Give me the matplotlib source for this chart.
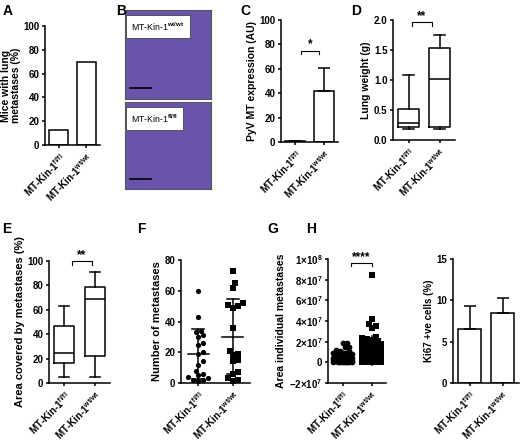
import numpy as np
import matplotlib
matplotlib.use("Agg")
import matplotlib.pyplot as plt

# estilo tipo GraphPad: Arial negrita
plt.rcParams.update({
    "font.family": ["Liberation Sans", "DejaVu Sans"],
    "font.weight": "bold",
    "axes.labelweight": "bold",
    "mathtext.fontset": "custom",
    "mathtext.rm": "Liberation Sans:bold",
    "mathtext.bf": "Liberation Sans:bold",
    "mathtext.it": "Liberation Sans:bold",
    "axes.linewidth": 1.1,
    "xtick.major.width": 1.1,
    "ytick.major.width": 1.1,
    "xtick.major.size": 2.5,
    "ytick.major.size": 2.5,
    "xtick.labelsize": 7,
    "ytick.labelsize": 7,
})

grupos = [r"MT-Kin-1$^{\mathbf{fl/fl}}$", r"MT-Kin-1$^{\mathbf{wt/wt}}$"]

# A) ratones con metastasis pulmonares (%)
mice_pct = [13, 70]

# C) expresion PyV MT (AU)
pyv_media = [0.8, 42]
pyv_err = [0.4, 18.5]

# D) peso pulmonar (g): whislo, q1, med, q3, whishi
lung_fl = [0.18, 0.21, 0.28, 0.51, 1.08]
lung_wt = [0.18, 0.21, 1.01, 1.54, 1.75]

# E) area cubierta por metastasis (%)
area_fl = [5, 16, 25, 47, 63]
area_wt = [5, 22, 69, 79, 91]

# F) numero de metastasis
num_fl = [60, 43, 34, 33, 31, 30, 26, 25, 20, 19, 14, 12, 8, 6, 5, 4, 3, 2, 2, 1]
num_wt = [73, 65, 62, 52, 51, 50, 49, 36, 21, 19, 18, 15, 14, 7, 6, 3, 2, 1]

# G) area de metastasis individuales
ind_fl = [1.9e7, 1.85e7, 1.5e7, 1.45e7, 1.2e7, 1.1e7, 1.05e7, 9.5e6, 9e6, 8.5e6,
          8e6, 7.5e6, 7e6, 6.5e6, 6e6, 5.5e6, 5e6, 4.5e6, 4.2e6, 4e6,
          3.5e6, 3.2e6, 3e6, 2.6e6, 2.4e6, 2e6, 1.8e6, 1.6e6, 1.4e6, 1.2e6,
          1e6, 9e5, 8e5, 7e5, 6e5, 5e5, 4e5, 3e5, 2e5, 1e5]
ind_wt = [8.5e7, 4.2e7, 3.7e7, 3.5e7, 3.3e7, 2.5e7, 2.4e7, 2.3e7, 2.2e7, 2.1e7,
          2e7, 1.95e7, 1.9e7, 1.8e7, 1.75e7, 1.7e7, 1.65e7, 1.6e7, 1.5e7, 1.45e7,
          1.4e7, 1.35e7, 1.3e7, 1.25e7, 1.2e7, 1.15e7, 1.1e7, 1.05e7, 1e7, 9.5e6,
          9e6, 8.5e6, 8e6, 7.5e6, 7e6, 6.5e6, 6e6, 5.5e6, 5e6, 4.5e6,
          4e6, 3.6e6, 3.2e6, 3e6, 2.8e6, 2.5e6, 2.2e6, 2e6, 1.8e6, 1.6e6,
          1.4e6, 1.2e6, 1e6, 9e5, 8e5, 7e5, 6e5, 5e5, 4e5, 3e5,
          2e5, 1.5e5, 1e5, 5e4]

# H) celulas Ki67 +ve (%)
ki67_media = [6.5, 8.5]
ki67_err = [2.8, 1.8]

W, H = 520, 441
fig = plt.figure(figsize=(W / 100, H / 100), dpi=100)


def ejes(x0, y0, x1, y1):
    # coordenadas en pixeles de la imagen
    ax = fig.add_axes([x0 / W, 1 - y1 / H, (x1 - x0) / W, (y1 - y0) / H])
    ax.spines["top"].set_visible(False)
    ax.spines["right"].set_visible(False)
    ax.set_xlim(-0.5, 1.5)
    ax.set_xticks([0, 1])
    ax.set_xticklabels(grupos, rotation=45, ha="right", rotation_mode="anchor")
    ax.tick_params(axis="x", pad=2)
    ax.tick_params(axis="y", pad=1.5)
    return ax


def corchete(ax, x0, x1, y, h, txt):
    ax.plot([x0, x0, x1, x1], [y - h, y, y, y - h], color="k", lw=0.8, clip_on=False)
    ax.text((x0 + x1) / 2, y, txt, ha="center", va="bottom", fontsize=8.5, clip_on=False)


def enjambre(vals, px_y, d, max_off):
    # reparte los puntos horizontalmente (en pixeles)
    vals = np.asarray(vals, dtype=float)
    cands = [0.0]
    k = 1
    while k * d / 2 <= max_off:
        cands += [k * d / 2, -k * d / 2]
        k += 1
    xs = np.zeros(len(vals))
    puestos = []
    for i in np.argsort(vals):
        y = vals[i] * px_y
        mejor, mejor_d = 0.0, -1
        for c in cands:
            md = min((np.hypot(c - px, y - py) for px, py in puestos), default=1e9)
            if md >= d:
                mejor = c
                break
            if md > mejor_d:
                mejor_d, mejor = md, c
        xs[i] = mejor
        puestos.append((mejor, y))
    return xs


def letra(x, y, t):
    fig.text(x / W, 1 - y / H, t, fontsize=10, fontweight="bold", va="top", ha="left")


# ---- A
ax = ejes(45, 26, 100, 145)
ax.bar([0, 1], mice_pct, width=0.7, color="white", edgecolor="k", linewidth=1.1)
ax.set_ylim(0, 100)
ax.set_yticks(range(0, 101, 20))
ax.set_ylabel("Mice with lung\nmetastases (%)", fontsize=7.5, labelpad=2, linespacing=1.0)
letra(3, 4, "A")

# ---- B (imagenes histologicas)
for y0, y1, txt in [(10, 99, r"MT-Kin-1$^{\mathbf{wt/wt}}$"), (102, 189, r"MT-Kin-1$^{\mathbf{fl/fl}}$")]:
    axi = fig.add_axes([125 / W, 1 - y1 / H, 86 / W, (y1 - y0) / H])
    axi.set_facecolor("#6a54ab")
    axi.set_xticks([])
    axi.set_yticks([])
    for s in axi.spines.values():
        s.set_color("#555555")
        s.set_linewidth(0.8)
    axi.text(0.07, 0.88, txt, transform=axi.transAxes, fontsize=6.3, fontweight="normal",
             va="top", ha="left",
             bbox=dict(boxstyle="square,pad=0.6", facecolor="white", edgecolor="#444444", lw=0.6))
    axi.plot([0.06, 0.3], [0.12, 0.12], transform=axi.transAxes, color="k", lw=1.2)
letra(116, 4, "B")

# ---- C
ax = ejes(281, 20, 338, 142)
ax.bar([0, 1], pyv_media, width=0.7, color="white", edgecolor="k", linewidth=1.1)
ax.errorbar([0, 1], pyv_media, yerr=[[0, 0], pyv_err], fmt="none", ecolor="k",
            elinewidth=1.1, capsize=4, capthick=1.1)
ax.set_ylim(0, 100)
ax.set_yticks(range(0, 101, 20))
ax.set_ylabel("PyV MT expression (AU)", fontsize=7.5, labelpad=2)
corchete(ax, 0.2, 0.85, 75, 3, "*")
letra(240, 4, "C")

# ---- D
ax = ejes(393, 20, 455, 140)
stats = [dict(whislo=v[0], q1=v[1], med=v[2], q3=v[3], whishi=v[4], fliers=[]) for v in (lung_fl, lung_wt)]
ax.bxp(stats, positions=[0, 1], widths=0.68, capwidths=0.35,
       boxprops=dict(lw=1.1), whiskerprops=dict(lw=1.1), capprops=dict(lw=1.1),
       medianprops=dict(color="k", lw=1.1), manage_ticks=False)
ax.set_xticks([0, 1])
ax.set_xticklabels(grupos, rotation=45, ha="right", rotation_mode="anchor")
ax.set_ylim(0, 2.0)
ax.set_yticks([0, 0.5, 1.0, 1.5, 2.0])
ax.set_yticklabels(["0.0", "0.5", "1.0", "1.5", "2.0"])
ax.set_ylabel("Lung weight (g)", fontsize=7.5, labelpad=2)
corchete(ax, 0.1, 0.75, 1.97, 0.07, "**")
letra(351, 4, "D")

# ---- E
ax = ejes(49, 261, 110, 383)
stats = [dict(whislo=v[0], q1=v[1], med=v[2], q3=v[3], whishi=v[4], fliers=[]) for v in (area_fl, area_wt)]
ax.bxp(stats, positions=[0, 1], widths=0.66, capwidths=0.33,
       boxprops=dict(lw=1.1), whiskerprops=dict(lw=1.1), capprops=dict(lw=1.1),
       medianprops=dict(color="k", lw=1.1), manage_ticks=False)
ax.set_xticks([0, 1])
ax.set_xticklabels(grupos, rotation=45, ha="right", rotation_mode="anchor")
ax.set_ylim(0, 100)
ax.set_yticks(range(0, 101, 20))
ax.set_ylabel("Area covered by metastases (%)", fontsize=8, labelpad=2)
corchete(ax, 0.25, 0.9, 100, 3, "**")
letra(2, 222, "E")

# ---- F
ax = ejes(181, 260, 250, 383)
px_x = 69 / 2.0
for i, (vals, m) in enumerate([(num_fl, "o"), (num_wt, "s")]):
    off = enjambre(vals, 123 / 80, 5.0, 12) / px_x
    ax.scatter(i + off, vals, marker=m, s=14, color="k", linewidths=0, clip_on=False, zorder=3)
    media, sd = np.mean(vals), np.std(vals, ddof=1)
    ax.plot([i - 0.3, i + 0.3], [media, media], color="k", lw=1.1, zorder=4)
    ax.plot([i, i], [max(media - sd, 0), media + sd], color="k", lw=1.1, zorder=4)
    ax.plot([i - 0.17, i + 0.17], [media + sd, media + sd], color="k", lw=1.1, zorder=4)
    if media - sd > 0:
        ax.plot([i - 0.17, i + 0.17], [media - sd, media - sd], color="k", lw=1.1, zorder=4)
ax.set_ylim(0, 80)
ax.set_yticks(range(0, 81, 20))
ax.set_ylabel("Number of metastases", fontsize=8, labelpad=2)
letra(137, 222, "F")

# ---- G
ax = ejes(328, 259, 386, 383)
px_x = 58 / 2.0
for i, (vals, m) in enumerate([(ind_fl, "o"), (ind_wt, "s")]):
    off = enjambre(vals, 124 / 1.2e8, 4.6, 11) / px_x
    ax.scatter(i + off, vals, marker=m, s=17, color="k", linewidths=0, zorder=3)
    media, sd = np.mean(vals), np.std(vals, ddof=1)
    ax.plot([i - 0.3, i + 0.3], [media, media], color="k", lw=1.1, zorder=4)
    ax.plot([i, i], [media - sd, media + sd], color="k", lw=1.1, zorder=4)
ax.set_ylim(-2e7, 1e8)
ax.set_yticks([-2e7, 0, 2e7, 4e7, 6e7, 8e7, 1e8])
ax.set_yticklabels([r"−2×10$^{\mathbf{7}}$", "0", r"2×10$^{\mathbf{7}}$", r"4×10$^{\mathbf{7}}$",
                    r"6×10$^{\mathbf{7}}$", r"8×10$^{\mathbf{7}}$", r"1×10$^{\mathbf{8}}$"])
ax.set_ylabel("Area individual metastases", fontsize=7.5, labelpad=2)
corchete(ax, 0.3, 1.0, 9.6e7, 3e6, "****")
letra(267, 222, "G")

# ---- H
ax = ejes(453, 259, 519, 383)
ax.bar([0, 1], ki67_media, width=0.68, color="white", edgecolor="k", linewidth=1.1)
ax.errorbar([0, 1], ki67_media, yerr=[[0, 0], ki67_err], fmt="none", ecolor="k",
            elinewidth=1.1, capsize=4, capthick=1.1)
ax.set_ylim(0, 15)
ax.set_yticks([0, 5, 10, 15])
ax.set_ylabel("Ki67 +ve cells (%)", fontsize=7, labelpad=2)
letra(306, 222, "H")

fig.savefig("out.png", dpi=100, facecolor="white")
